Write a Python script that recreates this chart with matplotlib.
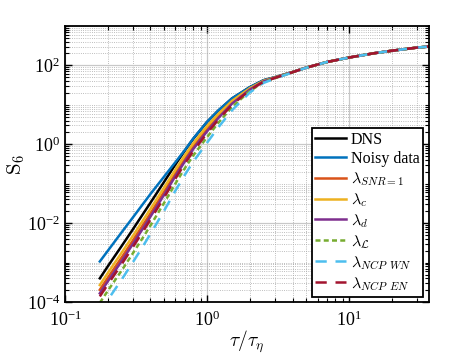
import matplotlib
matplotlib.use("Agg")
import matplotlib.pyplot as plt
from matplotlib.ticker import LogLocator, FixedLocator, NullFormatter

plt.rcParams['font.family'] = ['Liberation Serif', 'DejaVu Serif']
plt.rcParams['mathtext.fontset'] = 'cm'

# tau / tau_eta
tau = [0.176, 0.2, 0.25, 0.3, 0.35, 0.4, 0.5, 0.6, 0.7, 0.8, 1.0, 1.2, 1.5,
       2.0, 2.5, 3.0, 4.0, 5.0, 7.0, 10.0, 15.0, 20.0, 30.0, 36.5]

# S6
s6_dns = [4.0e-4, 8.0e-4, 2.6e-3, 6.9e-3, 1.6e-2, 3.3e-2, 0.113, 0.31, 0.70, 1.37, 3.66, 7.1, 14.5,
          28, 42, 50, 68, 88, 122, 158, 203, 235, 282, 300]
s6_noisy = [1.07e-3, 1.98e-3, 5.8e-3, 1.38e-2, 2.9e-2, 5.5e-2, 0.153, 0.354, 0.72, 1.40, 3.7, 7.2, 14.6,
            28, 42, 50, 68, 88, 122, 158, 203, 235, 282, 300]
s6_snr = [2.05e-4, 4.10e-4, 1.33e-3, 3.59e-3, 8.43e-3, 1.77e-2, 6.37e-2, 0.184, 0.433, 0.871, 2.42, 5.08, 11.5,
          25.2, 39.8, 48.6, 67.4, 87.7, 122, 158, 203, 235, 282, 300]
s6_c = [2.70e-4, 5.41e-4, 1.76e-3, 4.70e-3, 1.10e-2, 2.30e-2, 8.07e-2, 0.228, 0.528, 1.05, 2.87, 5.83, 12.6,
        26.3, 40.6, 49.2, 67.5, 87.8, 122, 158, 203, 235, 282, 300]
s6_d = [1.67e-4, 3.33e-4, 1.08e-3, 2.93e-3, 6.90e-3, 1.47e-2, 5.32e-2, 0.157, 0.372, 0.757, 2.12, 4.58, 10.7,
        24.3, 39.2, 48.3, 67.1, 87.5, 122, 158, 203, 235, 282, 300]
s6_L = [9.6e-5, 1.92e-4, 6.24e-4, 1.70e-3, 4.06e-3, 8.75e-3, 3.31e-2, 0.102, 0.251, 0.519, 1.51, 3.48, 8.79,
        22.3, 37.4, 47.2, 66.7, 87.3, 122, 158, 203, 235, 282, 300]
s6_wn = [5.65e-5, 1.13e-4, 3.67e-4, 1.01e-3, 2.44e-3, 5.35e-3, 2.10e-2, 6.73e-2, 0.171, 0.362, 1.09, 2.67, 7.29,
         20.5, 35.9, 46.2, 66.1, 87.1, 122, 158, 203, 235, 282, 300]
s6_en = [1.39e-4, 2.77e-4, 9.02e-4, 2.44e-3, 5.78e-3, 1.23e-2, 4.54e-2, 0.136, 0.327, 0.667, 1.90, 4.18, 10.0,
         23.6, 38.5, 48.0, 67.0, 87.5, 122, 158, 203, 235, 282, 300]

yticks = [1e-4, 1e-2, 1e0, 1e2]

fig = plt.figure(figsize=(4.74, 3.55), dpi=100)
ax = fig.add_axes([0.137, 0.149, 0.768, 0.778])

lw = 1.8
ax.loglog(tau, s6_dns, color='k', lw=lw, label='DNS')
ax.loglog(tau, s6_noisy, color='#0072BD', lw=lw, label='Noisy data')
ax.loglog(tau, s6_snr, color='#D95319', lw=lw, label=r'$\lambda_{SNR=1}$')
ax.loglog(tau, s6_c, color='#EDB120', lw=lw, label=r'$\lambda_{c}$')
ax.loglog(tau, s6_d, color='#7E2F8E', lw=lw, label=r'$\lambda_{d}$')
ax.loglog(tau, s6_L, color='#77AC30', lw=lw, ls=(0, (2.0, 1.3)), label=r'$\lambda_{\mathcal{L}}$')
ax.loglog(tau, s6_wn, color='#4DBEEE', lw=lw, ls=(0, (4.5, 3.5)), label=r'$\lambda_{NCP\enspace WN}$')
ax.loglog(tau, s6_en, color='#A2142F', lw=lw, ls=(0, (4.5, 3.5)), label=r'$\lambda_{NCP\enspace EN}$')

ax.set_xlim(0.1, 36.5)
ax.set_ylim(1e-4, 1e3)
ax.yaxis.set_major_locator(FixedLocator(yticks))
ax.yaxis.set_minor_locator(LogLocator(base=10, subs=range(1, 10), numticks=30))
ax.yaxis.set_minor_formatter(NullFormatter())

ax.grid(True, which='major', color='#c8c8c8', lw=0.9, ls='-')
ax.grid(True, which='minor', color='#a8a8a8', lw=0.6, ls=':')
ax.tick_params(which='both', direction='in', top=True, right=True, labelsize=13)
ax.tick_params(which='major', length=5, width=1.0)
ax.tick_params(axis='x', which='major', pad=6)
ax.tick_params(which='minor', length=3, width=0.8)
for sp in ax.spines.values():
    sp.set_linewidth(1.3)

ax.set_xlabel(r'$\tau/\tau_\eta$', fontsize=14, labelpad=-1)
ax.set_ylabel(r'$\mathrm{S}_6$', fontsize=15, labelpad=0)

leg = ax.legend(loc='lower right', fontsize=11.5, fancybox=False, framealpha=1,
                edgecolor='k', handlelength=1.9, handletextpad=0.3, labelspacing=0.2,
                borderpad=0.25, borderaxespad=0.35)
leg.get_frame().set_linewidth(1.3)

fig.savefig('out.png', dpi=100)
